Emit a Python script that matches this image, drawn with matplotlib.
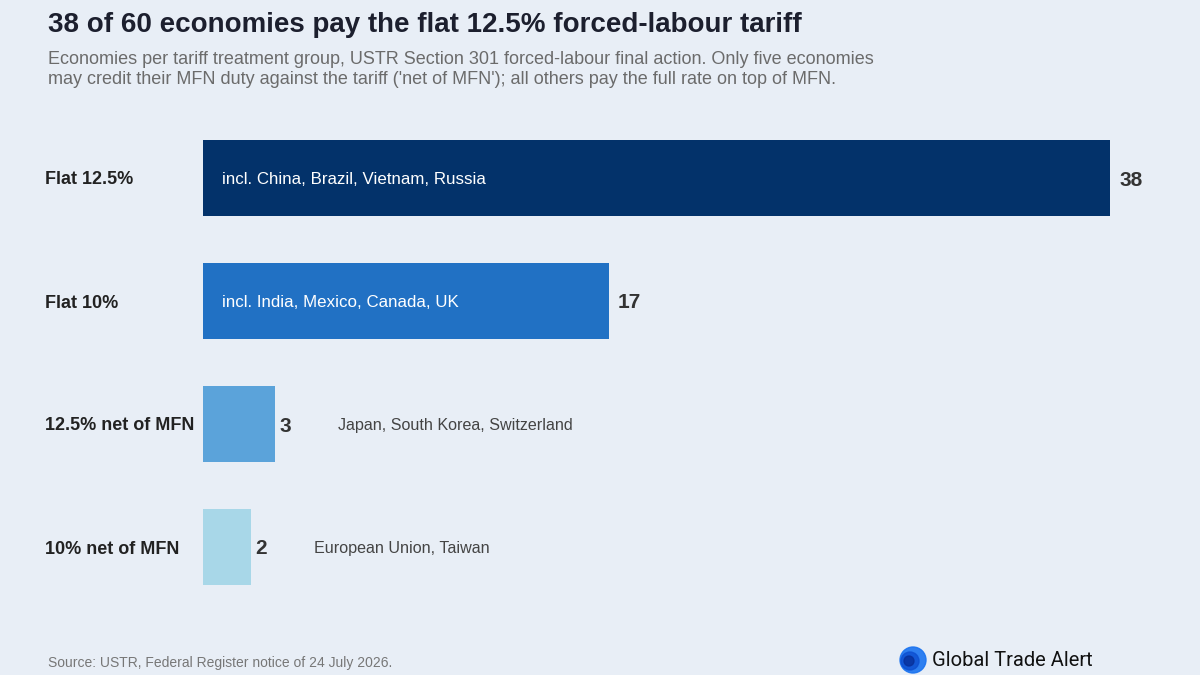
import matplotlib
matplotlib.use("Agg")
import matplotlib.pyplot as plt
from matplotlib.patches import Circle

plt.rcParams["font.family"] = ["Liberation Sans", "DejaVu Sans"]

# data
groups = ["Flat 12.5%", "Flat 10%", "12.5% net of MFN", "10% net of MFN"]
counts = [38, 17, 3, 2]
members = ["incl. China, Brazil, Vietnam, Russia",
           "incl. India, Mexico, Canada, UK",
           "Japan, South Korea, Switzerland",
           "European Union, Taiwan"]
colors = ["#03326a", "#2171c4", "#5ba3da", "#a8d7e8"]

title = "38 of 60 economies pay the flat 12.5% forced-labour tariff"
subtitle = ["Economies per tariff treatment group, USTR Section 301 forced-labour final action. Only five economies",
            "may credit their MFN duty against the tariff ('net of MFN'); all others pay the full rate on top of MFN."]
source = "Source: USTR, Federal Register notice of 24 July 2026."

BG = "#e8eef6"
W, H = 1200, 675

fig = plt.figure(figsize=(12, 6.75), dpi=100, facecolor=BG)

# axes placed in pixel terms: x 0..38 -> 203..1110 px, rows centred 178..547 px
ax = fig.add_axes([203 / W, 1 - 608.5 / H, 907 / W, 492 / H])
ax.set_facecolor(BG)
ax.set_xlim(0, 38)
ax.set_ylim(len(groups) - 0.5, -0.5)
ax.axis("off")

ypos = list(range(len(groups)))
ax.barh(ypos, counts, height=0.618, color=colors)

px = 38 / 907  # data units per pixel
for y, g, c, m in zip(ypos, groups, counts, members):
    ax.text(-158 * px, y, g, ha="left", va="center_baseline", fontsize=13,
            fontweight="bold", color="#222222")
    gap = 9 if c > 10 else 5
    ax.text(c + gap * px, y, str(c), ha="left", va="center_baseline", fontsize=15,
            fontweight="bold", color="#333333")
    if c > 10:
        ax.text(19 * px, y, m, ha="left", va="center_baseline", fontsize=12.2,
                color="white")
    else:
        ax.text(c + 63 * px, y, m, ha="left", va="center_baseline", fontsize=11.6,
                color="#444444")

# titles
fig.text(48 / W, 1 - 32 / H, title, ha="left", va="baseline", fontsize=20,
         fontweight="bold", color="#1c1f2e")
for i, line in enumerate(subtitle):
    fig.text(48 / W, 1 - (64 + 20 * i) / H, line, ha="left", va="baseline",
             fontsize=13, color="#6b6b6b")

# footer
fig.text(48 / W, 1 - 663 / H, source, ha="left", va="center", fontsize=10,
         color="#777777")

lax = fig.add_axes([0, 0, 1, 1], facecolor="none")
lax.set_xlim(0, W)
lax.set_ylim(H, 0)
lax.axis("off")
lax.add_patch(Circle((913, 660), 13, color="#1a73f0", alpha=0.9))
lax.add_patch(Circle((910, 661), 9, color="#0d4fd0", alpha=0.8))
lax.add_patch(Circle((909, 661), 5, color="#08309a", alpha=0.8))
lax.text(932, 661, "Global Trade Alert", ha="left", va="center", fontsize=14.5,
         color="#111111", family=["Roboto", "DejaVu Sans"])

fig.savefig("out.png", dpi=100, facecolor=BG)
